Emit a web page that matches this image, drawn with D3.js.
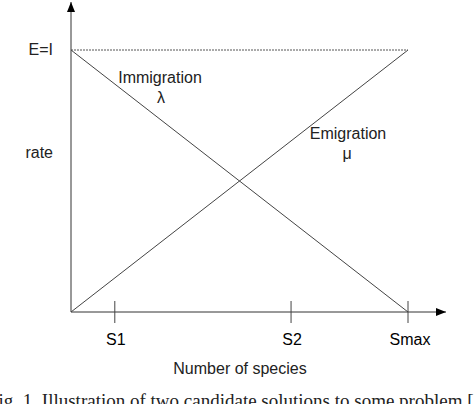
<!DOCTYPE html>
<html><head><meta charset="utf-8">
<script src="https://cdn.jsdelivr.net/npm/d3@7"></script>
<style>body{margin:0;background:#fff}svg{display:block}</style>
</head><body>
<svg id="c" width="474" height="404"></svg>
<script>
// species counts, scaled so Smax = 1
var tickNames = ['S1', 'S2', 'Smax'];
var tickValues = [0.13, 0.653, 1];
var immigration = [[0, 1], [1, 0]];
var emigration = [[0, 0], [1, 1]];

var svg = d3.select('#c');
var x = d3.scaleLinear().domain([0, 1]).range([71, 408]);
var y = d3.scaleLinear().domain([0, 1]).range([312, 50]);
var font = 'Liberation Sans, Arial, sans-serif';

svg.append('defs').append('marker')
  .attr('id', 'arr').attr('viewBox', '0 0 10 10').attr('refX', 10).attr('refY', 5)
  .attr('markerWidth', 10).attr('markerHeight', 10).attr('markerUnits', 'userSpaceOnUse')
  .attr('orient', 'auto')
  .append('path').attr('d', 'M0,1L10,5L0,9Z').attr('fill', '#000');

// axes
svg.append('line').attr('x1', x(0)).attr('y1', y(0)).attr('x2', 446).attr('y2', y(0))
  .attr('stroke', '#333').attr('marker-end', 'url(#arr)');
svg.append('line').attr('x1', x(0)).attr('y1', y(0)).attr('x2', x(0)).attr('y2', 2)
  .attr('stroke', '#333').attr('marker-end', 'url(#arr)');

var line = d3.line().x(function(d){ return x(d[0]); }).y(function(d){ return y(d[1]); });
svg.append('path').attr('d', line(immigration)).attr('fill', 'none').attr('stroke', '#444');
svg.append('path').attr('d', line(emigration)).attr('fill', 'none').attr('stroke', '#444');
svg.append('line').attr('x1', x(0)).attr('x2', x(1)).attr('y1', y(1)).attr('y2', y(1))
  .attr('stroke', '#555').attr('stroke-dasharray', '2,1');

svg.selectAll('.tk').data(tickValues).enter().append('line')
  .attr('x1', function(d){ return x(d); }).attr('x2', function(d){ return x(d); })
  .attr('y1', y(0) - 11).attr('y2', y(0) + 11).attr('stroke', '#444');
svg.selectAll('.tl').data(tickNames).enter().append('text')
  .attr('x', function(d, i){ return x(tickValues[i]) + (i == 2 ? 2 : 1); }).attr('y', 345)
  .attr('text-anchor', 'middle').attr('font-family', font).attr('font-size', 16)
  .text(function(d){ return d; });

function label(t, px, py, anchor){
  svg.append('text').attr('x', px).attr('y', py).attr('text-anchor', anchor || 'middle')
    .attr('font-family', font).attr('font-size', 16).attr('fill', '#222').text(t);
}
label('E=I', 53, 55, 'end');
label('rate', 53, 158, 'end');
label('Immigration', 160, 83);
label('\u03bb', 161, 103);
label('Emigration', 348, 139);
label('\u03bc', 347, 159);
label('Number of species', 240, 374);

// caption, clipped by the bottom edge as in the source figure
svg.append('text').attr('x', -12).attr('y', 407)
  .attr('font-family', 'Liberation Serif, serif').attr('font-size', 19).attr('fill', '#222')
  .text('Fig. 1. Illustration of two candidate solutions to some problem [');
</script>
</body></html>
